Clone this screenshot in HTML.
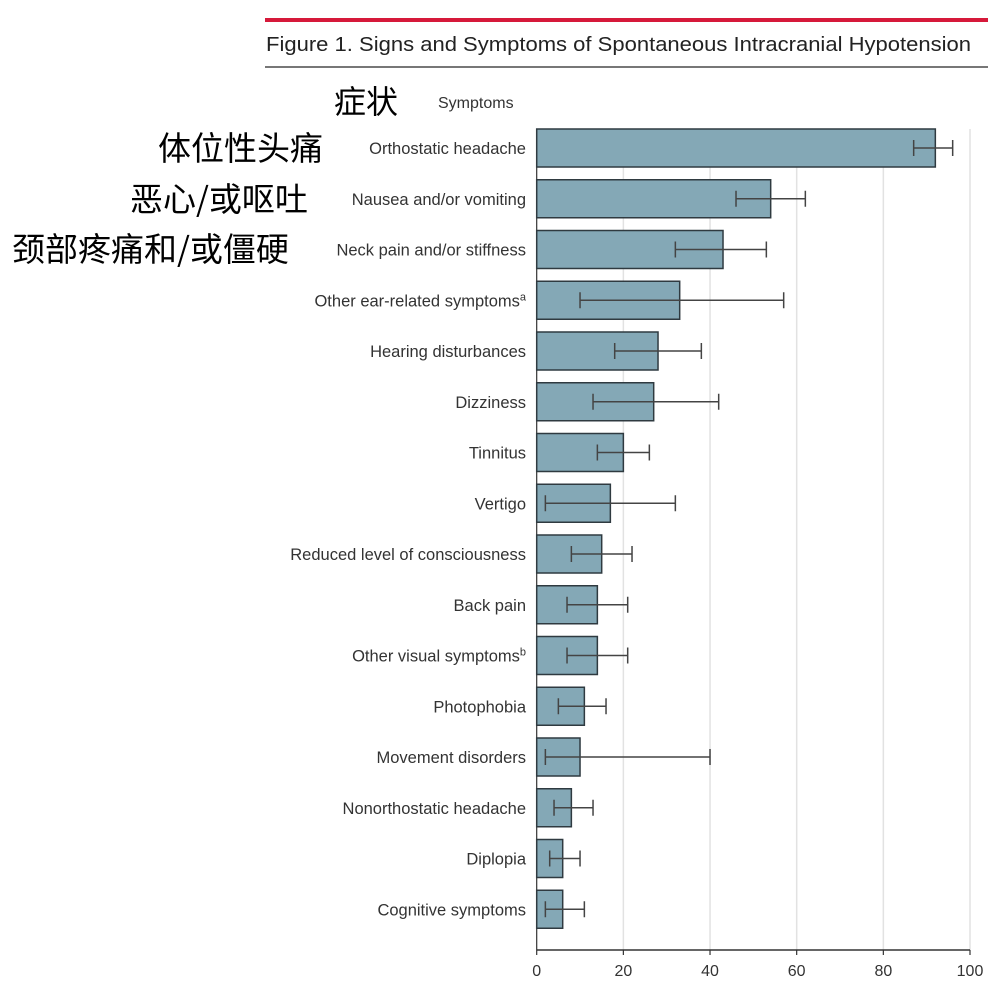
<!DOCTYPE html>
<html><head><meta charset="utf-8"><style>
body{margin:0;background:#fff;}
svg{display:block;}
text{font-family:"Liberation Sans Narrow","Liberation Sans","Noto Sans CJK SC",sans-serif;}
.cjk{font-family:"Noto Sans CJK SC",sans-serif;}
</style></head><body>
<svg id="chart" width="1000" height="990" viewBox="0 0 1000 990">
<rect x="265" y="18" width="723" height="4" fill="#d6193a"/>
<text x="266" y="51" font-size="20" fill="#222" textLength="705" lengthAdjust="spacingAndGlyphs">Figure 1. Signs and Symptoms of Spontaneous Intracranial Hypotension</text>
<rect x="265" y="66" width="723" height="2" fill="#777"/>
<text class="cjk" x="334" y="113" font-size="32" fill="#000">症状</text>
<text x="438" y="108" font-size="16" fill="#333">Symptoms</text>
<text class="cjk" x="158" y="160" font-size="33" fill="#000">体位性头痛</text>
<text class="cjk" x="130" y="211" font-size="33" fill="#000">恶心/或呕吐</text>
<text class="cjk" x="12" y="261" font-size="33" fill="#000">颈部疼痛和/或僵硬</text>
<g id="plot"></g>
</svg>
<script>
const categories=["Orthostatic headache","Nausea and/or vomiting","Neck pain and/or stiffness","Other ear-related symptoms","Hearing disturbances","Dizziness","Tinnitus","Vertigo","Reduced level of consciousness","Back pain","Other visual symptoms","Photophobia","Movement disorders","Nonorthostatic headache","Diplopia","Cognitive symptoms"];
const superscripts=["","","","a","","","","","","","b","","","","",""];
const values=[92,54,43,33,28,27,20,17,15,14,14,11,10,8,6,6];
const errLow=[87,46,32,10,18,13,14,2,8,7,7,5,2,4,3,2];
const errHigh=[96,62,53,57,38,42,26,32,22,21,21,16,40,13,10,11];
const ticks=[0,20,40,60,80,100];
const NS="http://www.w3.org/2000/svg";
const g=document.getElementById('plot');
const x0=536.7,x1=970,yTop=129,step=50.75,barH=38,yBase=950;
const xs=v=>x0+(v/100)*(x1-x0);
const yc=i=>yTop+step*i+barH/2;
function mk(t,a){const e=document.createElementNS(NS,t);for(const k in a)e.setAttribute(k,a[k]);g.appendChild(e);return e;}
ticks.forEach(t=>{
 if(t>0){const l=mk('line',{x1:xs(t),x2:xs(t),y1:yTop,y2:yBase,stroke:'#e2e2e2','stroke-width':1.5});
 
 }
 const tk=mk('line',{x1:xs(t),x2:xs(t),y1:yBase,y2:yBase+5,stroke:'#333','stroke-width':1.2});
 
 
 const tx=mk('text',{x:xs(t),y:yBase+26,'font-size':16,'text-anchor':'middle',fill:'#333'});
 tx.textContent=t;
 
 
});
const ax=mk('line',{x1:x0,x2:x1,y1:yBase,y2:yBase,stroke:'#333','stroke-width':1.5});


const ay=mk('line',{x1:x0,x2:x0,y1:yTop,y2:yBase,stroke:'#333','stroke-width':1.2});


categories.forEach((c,i)=>{
 const y=yc(i);
 const r=mk('rect',{x:x0,y:y-barH/2,width:xs(values[i])-x0,height:barH,fill:'#84a8b6',stroke:'#2f3a40','stroke-width':1.5});
 
 
 const el=mk('path',{d:`M${xs(errLow[i])},${y}H${xs(errHigh[i])}M${xs(errLow[i])},${y-8}V${y+8}M${xs(errHigh[i])},${y-8}V${y+8}`,stroke:'#444','stroke-width':1.5,fill:'none'});
 
 
 const t=mk('text',{x:526,y:y+6,'font-size':16.5,'text-anchor':'end',fill:'#333'});
 t.textContent=c;
 if(superscripts[i]){const s=document.createElementNS(NS,'tspan');s.setAttribute('font-size','11');s.setAttribute('dy','-6');s.textContent=superscripts[i];t.appendChild(s);}
 
 
});
</script>
</body></html>
